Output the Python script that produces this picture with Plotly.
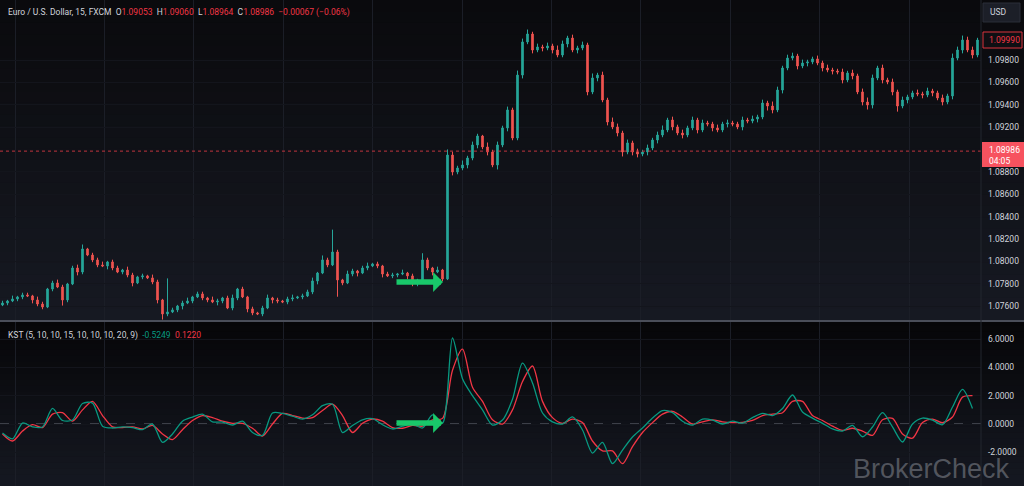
import plotly.graph_objects as go

# ---------------- data ----------------
first_open = 1.07610
close = [
    1.07628, 1.07646, 1.07664, 1.07682, 1.07700, 1.07691, 1.07655, 1.07619, 1.07592, 1.07753,
    1.07807, 1.07771, 1.07655, 1.07798, 1.07941, 1.07905, 1.08111, 1.08057, 1.08013, 1.07968,
    1.07959, 1.07995, 1.07941, 1.07905, 1.07923, 1.07878, 1.07807, 1.07861, 1.07870, 1.07852,
    1.07816, 1.07655, 1.07530, 1.07548, 1.07566, 1.07601, 1.07628, 1.07646, 1.07682, 1.07709,
    1.07673, 1.07655, 1.07637, 1.07646, 1.07673, 1.07583, 1.07673, 1.07753, 1.07682, 1.07575,
    1.07539, 1.07530, 1.07583, 1.07673, 1.07655, 1.07646, 1.07637, 1.07664, 1.07673, 1.07682,
    1.07691, 1.07727, 1.07825, 1.07896, 1.08013, 1.07968, 1.08084, 1.07834, 1.07807, 1.07887,
    1.07914, 1.07896, 1.07941, 1.07959, 1.07977, 1.07959, 1.07887, 1.07870, 1.07878, 1.07887,
    1.07896, 1.07870, 1.07798, 1.07834, 1.08013, 1.07941, 1.07905, 1.07923, 1.07843, 1.08951,
    1.08799, 1.08835, 1.08862, 1.08924, 1.09041, 1.09121, 1.09023, 1.08978, 1.08862, 1.09041,
    1.09193, 1.09354, 1.09103, 1.09666, 1.09962, 1.10033, 1.09890, 1.09917, 1.09908, 1.09926,
    1.09890, 1.09845, 1.09944, 1.09997, 1.09890, 1.09908, 1.09935, 1.09515, 1.09640, 1.09666,
    1.09443, 1.09246, 1.09202, 1.09148, 1.08978, 1.09059, 1.08978, 1.08960, 1.08978, 1.09014,
    1.09085, 1.09130, 1.09175, 1.09264, 1.09202, 1.09148, 1.09130, 1.09193, 1.09264, 1.09175,
    1.09237, 1.09228, 1.09193, 1.09175, 1.09228, 1.09237, 1.09228, 1.09202, 1.09264, 1.09255,
    1.09273, 1.09291, 1.09416, 1.09389, 1.09354, 1.09532, 1.09729, 1.09818, 1.09836, 1.09747,
    1.09774, 1.09783, 1.09810, 1.09774, 1.09729, 1.09711, 1.09702, 1.09693, 1.09622, 1.09684,
    1.09658, 1.09515, 1.09425, 1.09398, 1.09640, 1.09729, 1.09622, 1.09604, 1.09515, 1.09389,
    1.09443, 1.09470, 1.09506, 1.09497, 1.09488, 1.09523, 1.09506, 1.09461, 1.09425, 1.09479,
    1.09818, 1.09890, 1.09979, 1.09890, 1.09845, 1.09979,
]
# upper / lower wick lengths in pips (0.0001)
wick_hi = [
    2, 1, 3, 1, 2, 2, 1, 3, 2, 1,
    2, 3, 2, 1, 2, 3, 4, 1, 2, 2,
    3, 1, 2, 2, 1, 3, 2, 1, 2, 1,
    3, 2, 1, 30, 2, 1, 2, 3, 1, 2,
    2, 1, 3, 2, 1, 2, 3, 1, 2, 1,
    2, 1, 2, 3, 1, 2, 1, 2, 3, 1,
    2, 2, 3, 1, 4, 2, 20, 2, 1, 3,
    2, 1, 2, 3, 1, 2, 1, 2, 2, 1,
    3, 1, 2, 1, 6, 2, 1, 3, 1, 5,
    3, 2, 4, 2, 3, 2, 1, 4, 2, 3,
    2, 3, 2, 4, 3, 4, 2, 3, 2, 3,
    2, 4, 3, 2, 3, 2, 3, 2, 4, 2,
    3, 2, 4, 3, 2, 3, 2, 3, 2, 3,
    2, 3, 4, 2, 3, 2, 3, 2, 3, 2,
    3, 2, 2, 3, 2, 3, 2, 2, 3, 2,
    3, 2, 3, 2, 4, 3, 2, 3, 3, 2,
    3, 2, 2, 3, 2, 3, 2, 2, 3, 2,
    3, 2, 3, 4, 3, 2, 3, 2, 3, 2,
    3, 2, 2, 3, 2, 3, 2, 2, 3, 2,
    4, 3, 4, 3, 3, 2,
]
wick_lo = [
    1, 2, 1, 2, 2, 1, 3, 2, 2, 1,
    2, 1, 5, 2, 1, 3, 2, 1, 2, 2,
    1, 3, 2, 1, 2, 2, 3, 1, 2, 1,
    2, 3, 5, 2, 1, 2, 3, 1, 2, 1,
    2, 2, 1, 3, 2, 1, 2, 2, 1, 3,
    2, 1, 2, 1, 3, 2, 1, 2, 2, 1,
    2, 1, 2, 3, 1, 2, 1, 15, 2, 1,
    2, 3, 1, 2, 1, 2, 3, 1, 2, 2,
    1, 3, 2, 2, 1, 2, 3, 1, 2, 1,
    3, 2, 2, 3, 2, 3, 2, 3, 2, 4,
    2, 3, 2, 2, 3, 2, 3, 2, 3, 2,
    3, 2, 2, 3, 2, 3, 2, 3, 2, 3,
    2, 3, 2, 3, 4, 2, 3, 3, 2, 3,
    2, 3, 2, 2, 3, 2, 3, 2, 2, 3,
    2, 2, 3, 2, 2, 3, 2, 2, 3, 2,
    2, 3, 2, 4, 3, 2, 3, 2, 2, 3,
    2, 3, 2, 2, 3, 2, 3, 2, 3, 2,
    3, 2, 3, 4, 3, 2, 3, 2, 3, 5,
    2, 3, 2, 2, 3, 2, 3, 2, 3, 2,
    3, 2, 3, 2, 3, 2,
]
# KST line and its signal, one value every second bar
kst = [
    -0.64, -1.05, 0.07, -0.20, -0.21, 1.10, 0.25, 0.28, 1.45, 1.48,
    -0.15, -0.28, -0.20, -0.25, -0.40, 0.00, -1.30, -0.70, 0.20, 0.49,
    0.70, 0.15, 0.14, -0.07, 0.20, -0.60, -0.80, 0.78, 0.75, 0.55,
    0.35, 0.65, 1.30, 1.40, -0.60, -0.10, 0.30, 0.38, -0.05, -0.35,
    -0.15, 0.00, -0.28, 0.64, 0.07, 6.08, 3.20, 2.00, 1.00, -0.07,
    0.28, 1.75, 4.31, 2.90, 0.78, 0.15, 0.00, 0.50, -0.42, -2.05,
    -1.30, -2.80, -1.84, -0.92, -0.28, 0.42, 0.95, 0.80, 0.20, -0.07,
    0.35, 0.28, 0.00, 0.20, 0.07, 0.45, 0.75, 0.60, 1.10, 2.05,
    0.85, 0.42, 0.05, -0.35, -0.50, -0.10, -0.90, -0.21, 0.80, -0.20,
    -1.27, 0.00, 0.42, 0.28, -0.05, 1.20, 2.45, 1.10,
]
kst_signal = [
    -0.70, -1.20, -0.50, -0.05, -0.25, 0.70, 0.80, 0.20, 1.00, 1.60,
    0.60, -0.20, -0.25, -0.20, -0.35, -0.10, -0.70, -1.10, -0.40, 0.25,
    0.60, 0.45, 0.20, 0.05, 0.05, -0.30, -0.85, 0.00, 0.75, 0.60,
    0.42, 0.45, 0.95, 1.40, 0.60, -0.60, 0.05, 0.35, 0.20, -0.25,
    -0.30, -0.10, -0.15, 0.30, 0.40, 3.80, 5.30, 2.60, 1.60, 0.30,
    0.00, 1.00, 3.00, 4.10, 1.60, 0.45, 0.05, 0.35, 0.10, -1.20,
    -1.90, -1.90, -2.80, -1.60, -0.60, 0.10, 0.70, 0.90, 0.50, 0.00,
    0.15, 0.30, 0.15, 0.10, 0.12, 0.25, 0.60, 0.70, 0.80, 1.60,
    1.60, 0.60, 0.25, -0.15, -0.45, -0.30, -0.50, -0.80, 0.30, 0.40,
    -0.70, -1.00, 0.10, 0.35, 0.10, 0.50, 1.90, 2.00,
]
price_ticks = [1.098, 1.096, 1.094, 1.092, 1.088, 1.086, 1.084, 1.082, 1.080, 1.078, 1.076]
price_tick_labels = ["1.09800", "1.09600", "1.09400", "1.09200", "1.08800", "1.08600",
                     "1.08400", "1.08200", "1.08000", "1.07800", "1.07600"]
kst_ticks = [6, 4, 2, 0, -2]
kst_tick_labels = ["6.0000", "4.0000", "2.0000", "0.0000", "-2.0000"]

symbol_title = "Euro / U.S. Dollar, 15, FXCM"
hdr_open, hdr_high, hdr_low, hdr_close = "1.09053", "1.09060", "1.08964", "1.08986"
hdr_change = "\u22120.00067 (\u22120.06%)"
kst_title = "KST (5, 10, 10, 15, 10, 10, 10, 20, 9)"
kst_value, kst_signal_value = "-0.5249", "0.1220"
last_price = 1.08986
last_price_label = "1.08986"
countdown = "04:05"
session_high_label = "1.09990"
currency = "USD"
watermark = "BrokerCheck"

# ---------------- derived OHLC ----------------
n = len(close)
bars = list(range(n))
opens = [first_open] + close[:-1]
highs = [max(o, c) + w * 0.0001 for o, c, w in zip(opens, close, wick_hi)]
lows = [min(o, c) - w * 0.0001 for o, c, w in zip(opens, close, wick_lo)]
kst_x = list(range(0, 2 * len(kst), 2))

UP, DN = "#26a69a", "#ef5350"
KST_C, SIG_C = "#089981", "#f23645"
TXT = "#d1d4dc"
GRID = "#1b1e27"

W, H = 1024, 486
PW = 981          # plot area width in px
MAIN_BOT = 320
LOW_TOP = 322


def X(px):
    return px / PW


def Y(py):
    return 1 - py / H


fig = go.Figure()
fig.add_trace(go.Candlestick(
    x=bars, open=opens, high=highs, low=lows, close=close,
    increasing=dict(line=dict(color=UP, width=1), fillcolor=UP),
    decreasing=dict(line=dict(color=DN, width=1), fillcolor=DN),
    whiskerwidth=0, xaxis="x", yaxis="y", showlegend=False, hoverinfo="skip",
))
fig.add_trace(go.Scatter(x=kst_x, y=kst_signal, mode="lines", xaxis="x2", yaxis="y2",
                         line=dict(color=SIG_C, width=1.3, shape="spline", smoothing=0.8),
                         showlegend=False, hoverinfo="skip"))
fig.add_trace(go.Scatter(x=kst_x, y=kst, mode="lines", xaxis="x2", yaxis="y2",
                         line=dict(color=KST_C, width=1.3, shape="spline", smoothing=0.8),
                         showlegend=False, hoverinfo="skip"))

shapes = []


def lerp(c0, c1, t):
    return "rgb(%d,%d,%d)" % tuple(round(a + (b - a) * t) for a, b in zip(c0, c1))


# gradient backgrounds (bands)
NB = 28
for (p0, p1, c0, c1) in [(0, MAIN_BOT, (10, 10, 13), (22, 25, 34)),
                         (MAIN_BOT, H, (6, 6, 8), (21, 24, 33))]:
    step = (p1 - p0) / NB
    for k in range(NB):
        shapes.append(dict(type="rect", xref="paper", yref="paper", layer="below",
                           x0=0, x1=X(W), y0=Y(p0 + (k + 1) * step + 0.5), y1=Y(p0 + k * step),
                           fillcolor=lerp(c0, c1, k / (NB - 1)), line=dict(width=0)))

# zero line in KST pane
shapes.append(dict(type="line", xref="paper", yref="y2", x0=0, x1=1, y0=0, y1=0,
                   line=dict(color="#6f727c", width=1, dash="dash"), layer="below"))
# last price line
shapes.append(dict(type="line", xref="paper", yref="y", x0=0, x1=1, y0=last_price, y1=last_price,
                   line=dict(color="#c2353e", width=1, dash="dot")))
# pane divider
shapes.append(dict(type="line", xref="paper", yref="paper", x0=0, x1=X(W), y0=Y(321), y1=Y(321),
                   line=dict(color="#4a4e59", width=2)))
# price scale separator
shapes.append(dict(type="line", xref="paper", yref="paper", x0=1, x1=1, y0=0, y1=1,
                   line=dict(color="#23262f", width=1)))
# USD box
shapes.append(dict(type="rect", xref="paper", yref="paper", x0=X(983), x1=X(1020), y0=Y(22), y1=Y(3),
                   fillcolor="#1c1f28", line=dict(color="#2a2e39", width=1)))
# session high box
shapes.append(dict(type="rect", xref="paper", yref="paper", x0=X(983), x1=X(1022), y0=Y(48), y1=Y(32),
                   fillcolor="#0e0f13", line=dict(color="#d8353f", width=1)))
# last price box
shapes.append(dict(type="rect", xref="paper", yref="paper", x0=X(982), x1=X(1024), y0=Y(167), y1=Y(142),
                   fillcolor="#f7525f", line=dict(width=0)))

RED = "#f23645"


def red(s):
    return '<span style="color:%s">%s</span>' % (RED, s)


sp = "\u00a0\u00a0"
header = (symbol_title + sp + "O" + red(hdr_open) + sp + "H" + red(hdr_high) + sp +
          "L" + red(hdr_low) + sp + "C" + red(hdr_close) + sp + red(hdr_change))
kst_header = (kst_title + sp + '<span style="color:%s">%s</span>' % (KST_C, kst_value) + sp +
              red(kst_signal_value))

FONT = "Roboto, Liberation Sans, sans-serif"
ann = [
    dict(x=X(6), y=Y(12), text=header, font=dict(size=8.5, color=TXT, family=FONT)),
    dict(x=X(6), y=Y(335), text=kst_header, font=dict(size=8.5, color=TXT, family=FONT)),
    dict(x=X(988), y=Y(12), text=currency, font=dict(size=8.5, color=TXT, family=FONT)),
    dict(x=X(987), y=Y(40), text=session_high_label, font=dict(size=8.5, color=RED, family=FONT)),
    dict(x=X(987), y=Y(150), text=last_price_label, font=dict(size=8.5, color="#ffffff", family=FONT)),
    dict(x=X(987), y=Y(161), text=countdown, font=dict(size=8.5, color="#ffffff", family=FONT)),
]
for a in ann:
    a.update(xref="paper", yref="paper", xanchor="left", yanchor="middle", showarrow=False)

for ty in (282, 423):
    ann.append(dict(xref="paper", yref="paper", x=X(443), y=Y(ty), axref="pixel", ayref="pixel",
                    ax=-48, ay=0, text="", showarrow=True, arrowhead=1, arrowsize=0.6,
                    arrowwidth=5.5, arrowcolor="#19c86a", standoff=0))

ann.append(dict(xref="paper", yref="paper", x=X(1012), y=Y(469), xanchor="right", yanchor="middle",
                text=watermark, showarrow=False,
                font=dict(size=27, color="rgba(125,128,136,0.6)", family="Liberation Sans, Arial")))

xax = dict(range=[-0.5, 195.7], showticklabels=False, ticks="", showgrid=True, gridcolor=GRID,
           gridwidth=1, tick0=2.5, dtick=17.88, zeroline=False, showline=False,
           rangeslider=dict(visible=False), fixedrange=True)

fig.update_layout(
    width=W, height=H, autosize=False,
    margin=dict(l=0, r=W - PW, t=0, b=0, pad=0),
    paper_bgcolor="#0d0e12", plot_bgcolor="rgba(0,0,0,0)",
    boxgap=0.55,
    xaxis=dict(xax, anchor="y", domain=[0, 1]),
    xaxis2=dict(xax, anchor="y2", domain=[0, 1], matches="x"),
    yaxis=dict(domain=[Y(MAIN_BOT), 1], range=[1.07476, 1.10337], side="right",
               tickvals=price_ticks, ticktext=price_tick_labels, ticks="",
               ticklabelstandoff=6, tickfont=dict(size=8.5, color=TXT, family=FONT),
               showgrid=True, gridcolor="#13151c", zeroline=False, showline=False, automargin=False),
    yaxis2=dict(domain=[0, Y(LOW_TOP)], range=[-4.38, 7.21], side="right",
                tickvals=kst_ticks, ticktext=kst_tick_labels, ticks="",
                ticklabelstandoff=6, tickfont=dict(size=8.5, color=TXT, family=FONT),
                showgrid=True, gridcolor="#13151c", zeroline=False, showline=False, automargin=False),
    shapes=shapes, annotations=ann, showlegend=False,
)

fig.write_html("out.html", config=dict(displayModeBar=False),
               post_script="document.body.style.margin='0';document.body.style.overflow='hidden';"
                           "document.body.style.background='#0d0e12';")
